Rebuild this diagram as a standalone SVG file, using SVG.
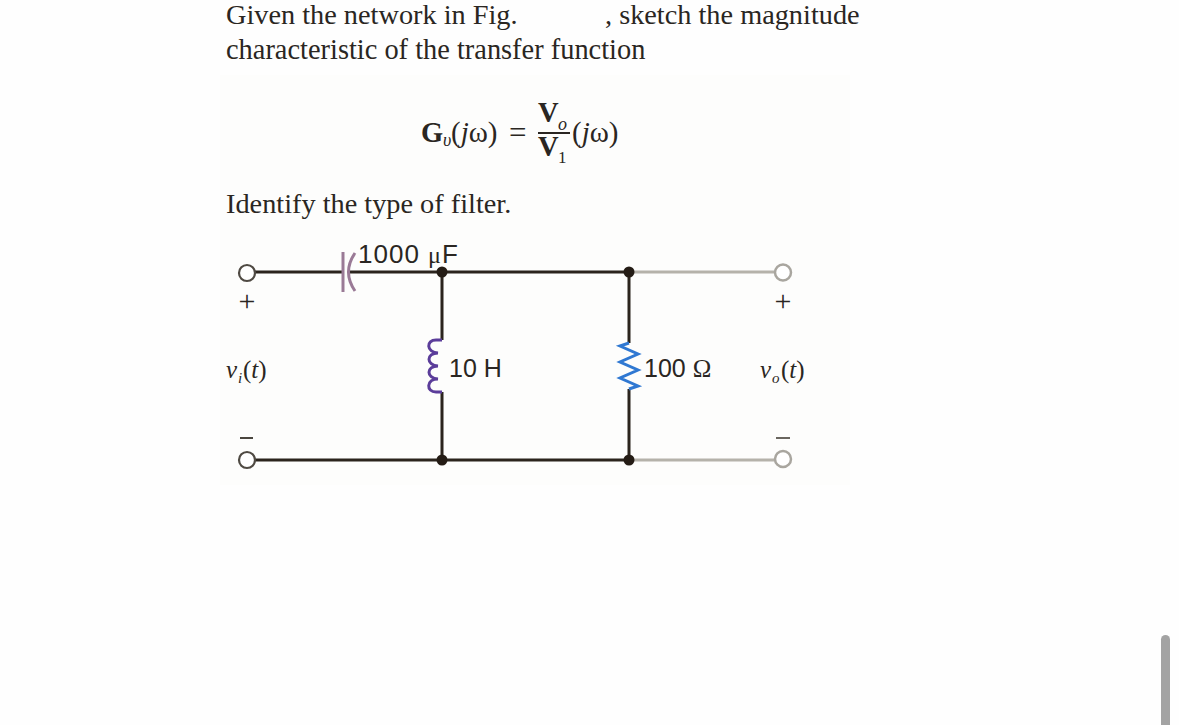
<svg xmlns="http://www.w3.org/2000/svg" width="1179" height="725" viewBox="0 0 1179 725">
<style>
.t{font-family:"Liberation Serif",serif;fill:#2a2622}
.s{font-family:"Liberation Sans",sans-serif;fill:#2a2622;font-size:25px}
.w{fill:none;stroke:#2b241d;stroke-width:3}
.g{fill:none;stroke:#b5b2aa;stroke-width:3}
.d{fill:#241c15}
.o{fill:#fff;stroke:#4f4a43;stroke-width:2.2}
.og{fill:#fff;stroke:#a9a69f;stroke-width:2.5}
.i{font-style:italic}
.b{font-weight:bold}
</style>
<rect width="1179" height="725" fill="#fefefe"/>
<rect x="220" y="75" width="630" height="410" fill="#fdfdfc"/>
<g id="text">
<text class="t" x="226" y="24" font-size="28.300">Given the network in Fig.</text>
<text class="t" x="605" y="24" font-size="28.300">, sketch the magnitude</text>
<text class="t" x="226" y="59" font-size="28.400">characteristic of the transfer function</text>
<text class="t" x="226" y="213" font-size="28.300">Identify the type of filter.</text>
</g>
<g id="equation">
<text class="t b" x="421" y="142" font-size="28.500">G</text>
<text class="t i" x="443" y="146" font-size="18">υ</text>
<text class="t" x="451" y="142" font-size="29">(<tspan class="i">j</tspan>ω)</text>
<text class="t" x="509" y="143" font-size="31">=</text>
<text class="t b" x="538" y="122" font-size="28.500">V</text>
<text class="t i" x="558" y="130" font-size="18">o</text>
<rect x="538" y="132" width="32" height="2" fill="#2a2622"/>
<text class="t b" x="538" y="156" font-size="28.500">V</text>
<text class="t" x="558" y="163" font-size="17">1</text>
<text class="t" x="572" y="142" font-size="29">(<tspan class="i">j</tspan>ω)</text>
</g>
<g id="connectors">
<path class="w" d="M255 272H342M349 272H629M255 460H629M442 272V340M442 392V460M629 272V343M629 389V460"/>
<path class="g" d="M629 272H775M629 460H775"/>
</g>
<g id="capacitor">
<path d="M343 252V292" fill="none" stroke="#9a7a96" stroke-width="3"/>
<path d="M355 253Q342 272 355 291" fill="none" stroke="#9a7a96" stroke-width="3"/>
<text class="s" x="358" y="263" font-size="26" style="font-size:26px" letter-spacing="1">1000 <tspan font-family="Liberation Serif" font-size="24" style="font-size:24px">μ</tspan>F</text>
</g>
<g id="inductor">
<path d="M442 340H436C426 340 426 352 438 353C426 353 426 365 438 366C426 366 426 378 438 379C426 379 426 392 436 392H442" fill="none" stroke="#5b3d9a" stroke-width="3"/>
<text class="s" x="449" y="377">10 H</text>
</g>
<g id="resistor">
<path d="M629 343L620 346L638 354L620 362L638 370L620 378L638 386L629 389" fill="none" stroke="#2f78d2" stroke-width="3"/>
<text class="s" x="644" y="377">100 <tspan font-family="Liberation Serif">Ω</tspan></text>
</g>
<g id="junctions">
<circle class="d" cx="442" cy="272" r="5.500"/>
<circle class="d" cx="442" cy="460" r="5.500"/>
<circle class="d" cx="629" cy="272" r="5.500"/>
<circle class="d" cx="629" cy="460" r="5.500"/>
</g>
<g id="input-port">
<circle class="o" cx="247" cy="273" r="8"/>
<circle class="o" cx="247" cy="460" r="8"/>
<text class="t" x="247" y="311" font-size="30" text-anchor="middle">+</text>
<text class="t i" x="226" y="378" font-size="25">v</text>
<text class="t i" x="238" y="383" font-size="15">i</text>
<text class="t" x="243" y="378" font-size="25">(<tspan class="i">t</tspan>)</text>
<rect x="240" y="437" width="13" height="2" fill="#4a463f"/>
</g>
<g id="output-port">
<circle class="og" cx="783" cy="272.500" r="8"/>
<circle class="og" cx="783" cy="459" r="8"/>
<text class="t" x="783" y="311" font-size="30" text-anchor="middle">+</text>
<text class="t i" x="760" y="378" font-size="25">v</text>
<text class="t i" x="772" y="383" font-size="15">o</text>
<text class="t" x="781" y="378" font-size="25">(<tspan class="i">t</tspan>)</text>
<rect x="776" y="437" width="14" height="2" fill="#6a665f"/>
</g>
<rect id="scrollbar" x="1161" y="635" width="9" height="95" rx="4.500" fill="#a3a3a3"/>
</svg>
